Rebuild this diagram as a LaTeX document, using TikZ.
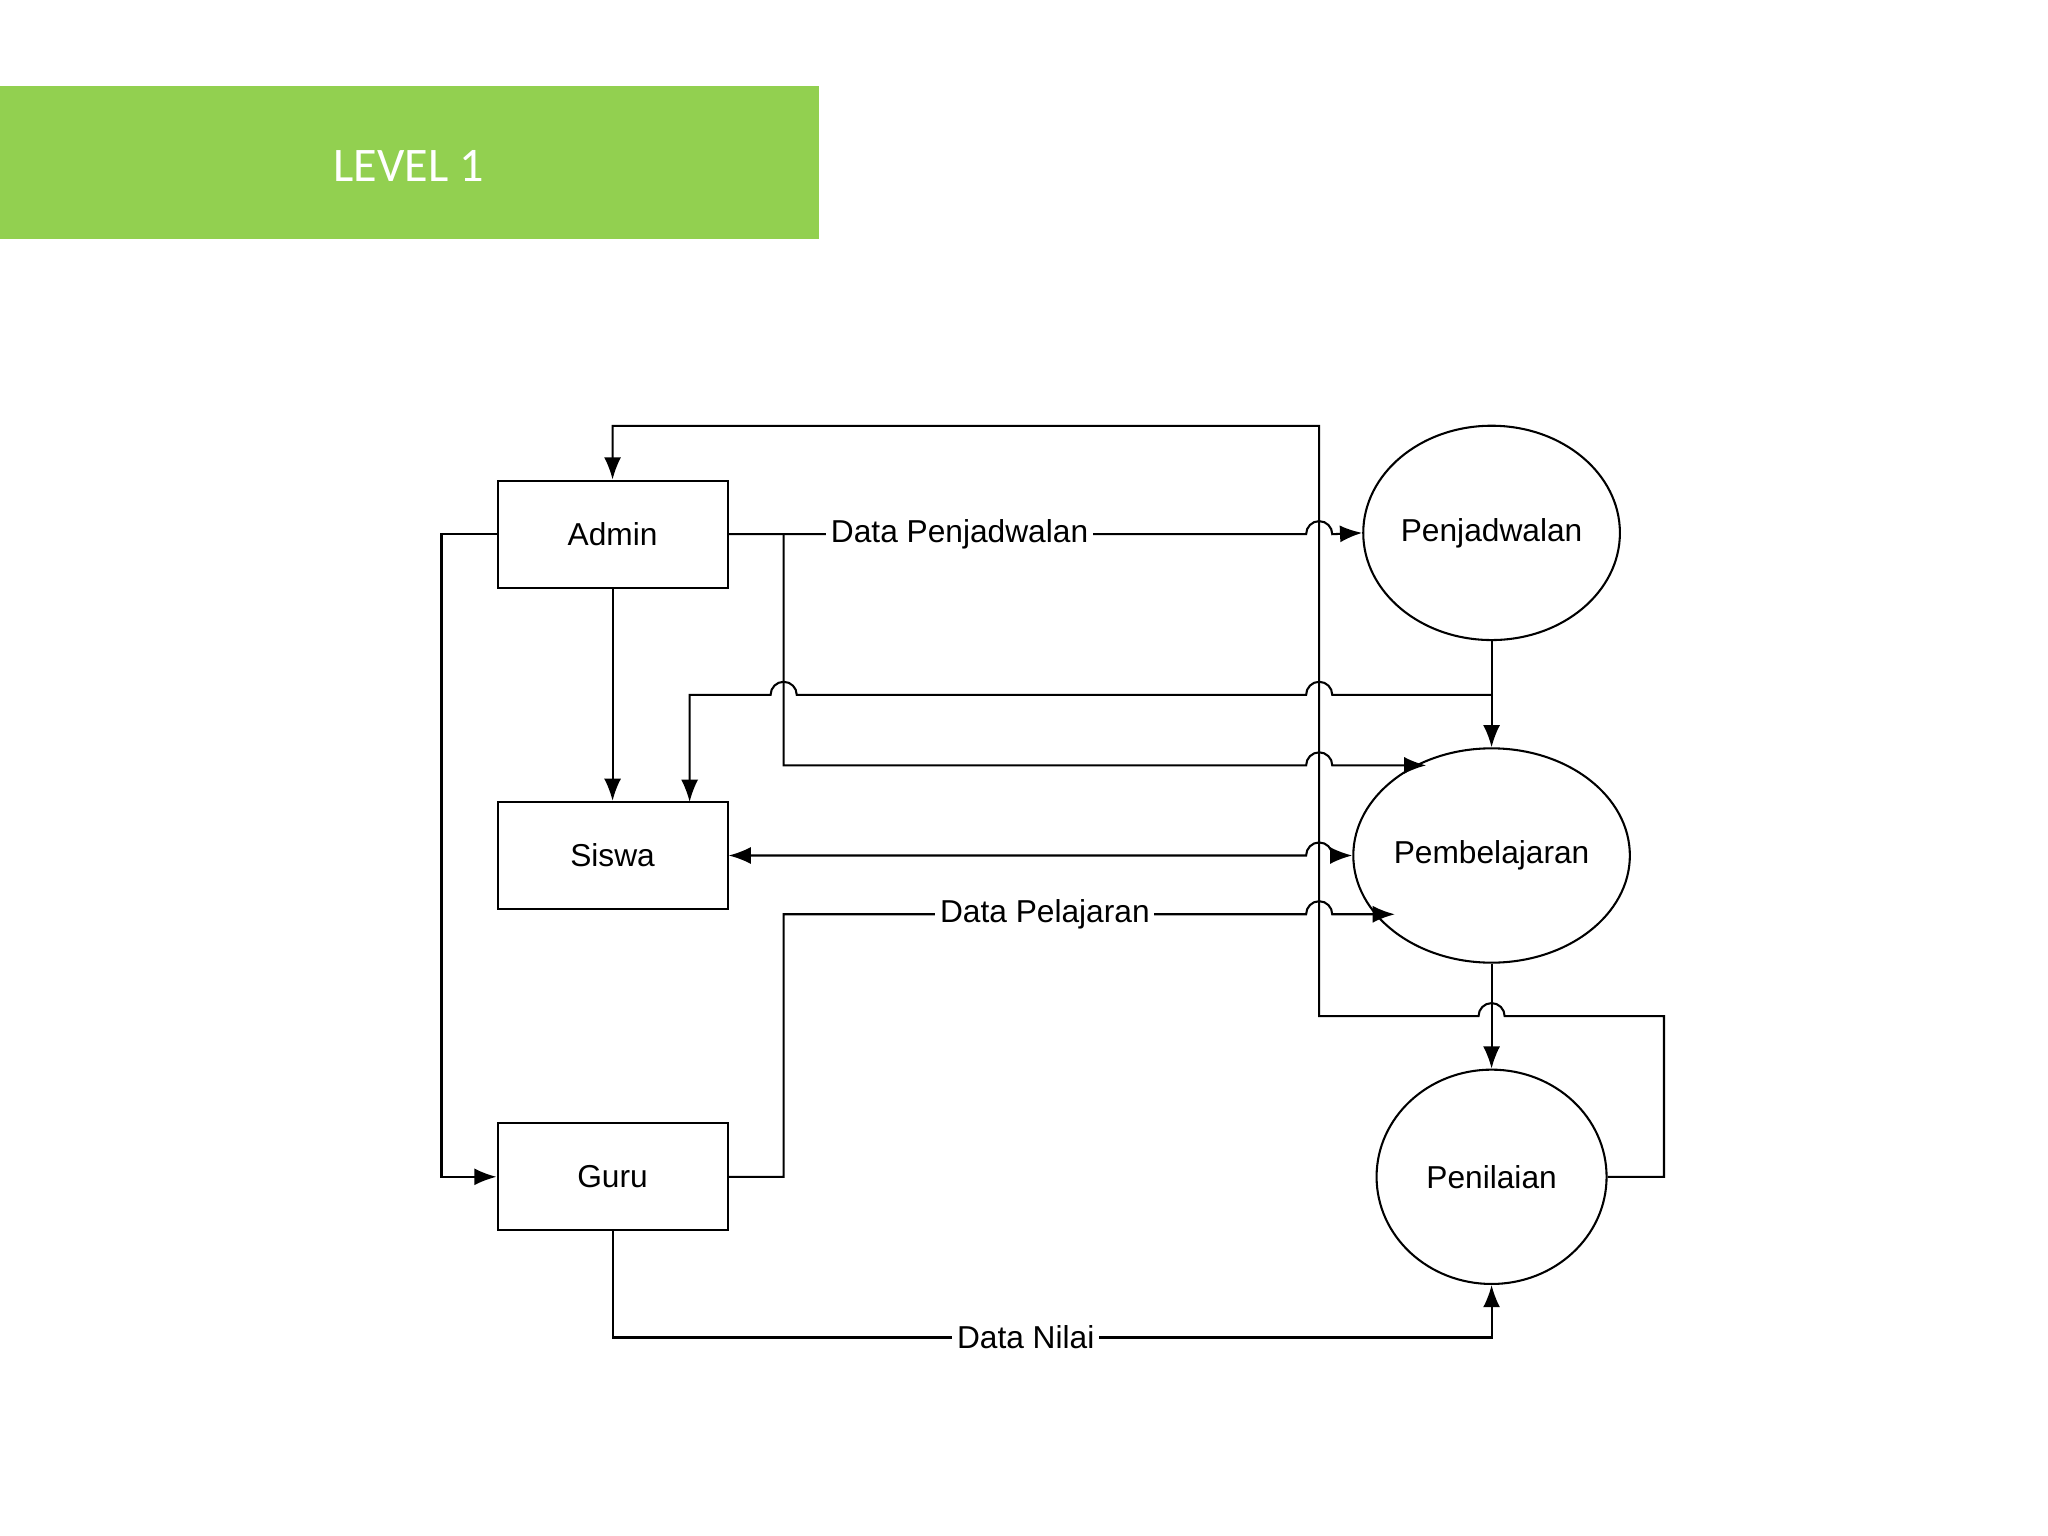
\documentclass[tikz,border=0pt]{standalone}
\usepackage{fontspec}
\setmainfont{Liberation Sans}
\newfontfamily\bannerfont{Carlito}
\usetikzlibrary{shapes.geometric,arrows.meta}
\definecolor{bannergreen}{HTML}{92D050}
\begin{document}
\begin{tikzpicture}[x={(0.01cm,0)},y={(0,-0.01cm)},
  line width=0.45pt,
  every node/.style={font=\fontsize{6.9}{8}\selectfont},
  ent/.style={rectangle,draw,minimum width=1.76cm,minimum height=0.82cm,inner sep=0},
  proc/.style={ellipse,draw,minimum width=1.76cm,minimum height=1.64cm,inner sep=0},
  arr/.style={-{Latex[length=0.17cm,width=0.13cm]}},
  lbl/.style={fill=white,inner sep=1pt}]
\useasboundingbox (0,0) rectangle (1568,1176);
\fill[bannergreen] (0,66) rectangle (627,183);
\node[text=white,font=\bannerfont\fontsize{10.5}{12}\selectfont] (title) at (313,127) {LEVEL 1};

\node[ent] (admin) at (469,409) {Admin};
\node[ent] (siswa) at (469,655) {Siswa};
\node[ent] (guru) at (469,901) {Guru};
\node[proc] (jad) at (1142,408) {Penjadwalan};
\node[proc] (pem) at (1142,655) {Pembelajaran};
\node[proc] (nil) at (1142,901) {Penilaian};
\coordinate (pemA) at (1092,586);
\coordinate (pemB) at (1068,700);

% feedback loop to admin
\draw[arr] (nil.east) -- (1274,901) -- (1274,778) -- (1152,778) arc (360:180:10) -- (1010,778) -- (1010,326) -- (469,326) -- (admin.north);
% data penjadwalan
\draw[arr] (admin.east) -- node[lbl,pos=0.4] {Data Penjadwalan} (1000,409) arc (180:360:10) -- (jad.west);
% admin branch to pembelajaran
\draw[arr] (600,409) -- (600,586) -- (1000,586) arc (180:360:10) -- (pemA);
% penjadwalan to pembelajaran and siswa
\draw[arr] (jad.south) -- (pem.north);
\draw[arr] (1142,532) -- (1020,532) arc (360:180:10) -- (610,532) arc (360:180:10) -- (528,532) -- (528,614);
% admin to siswa
\draw[arr] (admin.south) -- (siswa.north);
% siswa <-> pembelajaran
\draw[{Latex[length=0.17cm,width=0.13cm]}-{Latex[length=0.17cm,width=0.13cm]}] (siswa.east) -- (1000,655) arc (180:360:10) -- (pem.west);
% data pelajaran
\draw[arr] (guru.east) -- (600,901) -- (600,700) -- node[lbl,pos=0.5] {Data Pelajaran} (1000,700) arc (180:360:10) -- (pemB);
% admin to guru
\draw[arr] (admin.west) -- (338,409) -- (338,901) -- (guru.west);
% pembelajaran to penilaian
\draw[arr] (pem.south) -- (nil.north);
% data nilai
\draw[arr] (guru.south) -- (469,1024) -- node[lbl,pos=0.47] {Data Nilai} (1142,1024) -- (nil.south);
\end{tikzpicture}
\end{document}
